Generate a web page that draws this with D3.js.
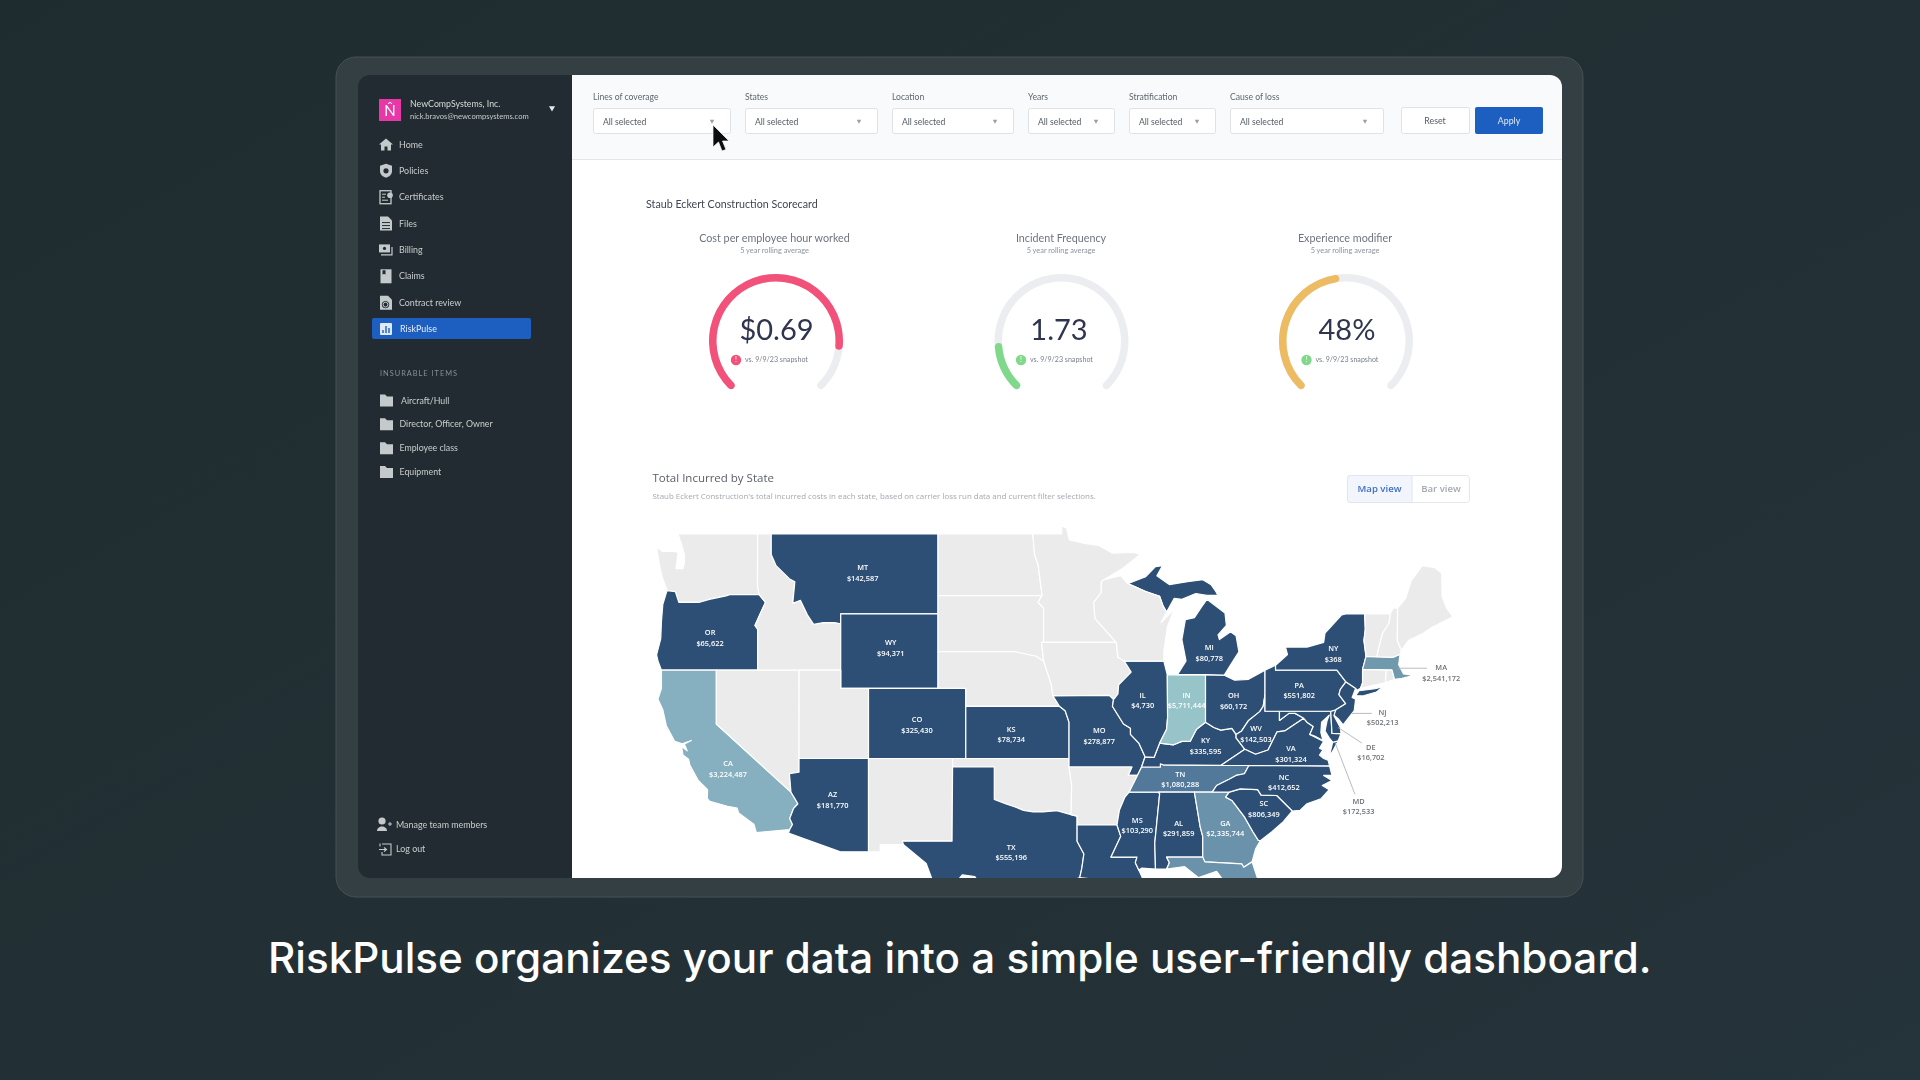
<!DOCTYPE html>
<html>
<head>
<meta charset="utf-8">
<title>RiskPulse</title>
<script src="https://cdn.jsdelivr.net/npm/d3@7"></script>
<style>
  html, body { margin: 0; padding: 0; background: #24313a; overflow: hidden; }
  svg { display: block; }
  text { font-family: Lato, "Open Sans", sans-serif; }
  .mapArea text { font-family: "Open Sans", "Noto Sans", sans-serif; }
</style>
</head>
<body>
<div id="chartArea"></div>
<script>
// --- chart values ---
const navItems = ["Home", "Policies", "Certificates", "Files", "Billing", "Claims", "Contract review", "RiskPulse"];
const insurableItems = ["Aircraft/Hull", "Director, Officer, Owner", "Employee class", "Equipment"];
const footerItems = ["Manage team members", "Log out"];
const filterLabels = ["Lines of coverage", "States", "Location", "Years", "Stratification", "Cause of loss"];
const filterWidths = [137, 132, 121, 86, 86, 153];

const gaugeTitles = ["Cost per employee hour worked", "Incident Frequency", "Experience modifier"];
const gaugeValues = ["$0.69", "1.73", "48%"];
const gaugeFractions = [0.855, 0.167, 0.478];
const gaugeColors = ["#f2517a", "#80d98b", "#edbb62"];
const snapshotColors = ["#f2517a", "#80d98b", "#80d98b"];

const stateCodes = ["MT", "OR", "WY", "CO", "KS", "CA", "AZ", "TX", "MI", "NY", "MA", "PA", "IL", "IN", "OH", "NJ", "WV", "MO", "KY", "DE", "VA", "TN", "NC", "MD", "SC", "MS", "AL", "GA"];
const stateIncurred = [142587, 65622, 94371, 325430, 78734, 3224487, 181770, 555196, 80778, 368, 2541172, 551802, 4730, 5711444, 60172, 502213, 142503, 278877, 335595, 16702, 301324, 1080288, 412652, 172533, 806349, 103290, 291859, 2335744];
// no printed label, only shaded
const unlabelledShaded = { LA: 150000, FL: 2000000 };

// label anchors, lon/lat
const labelAnchors = {
  MT: [-109.47, 47.1], OR: [-120.45, 43.74], WY: [-107.45, 43.2], CO: [-105.56, 38.93], KS: [-98.78, 38.4],
  CA: [-119.16, 36.37], AZ: [-111.63, 34.53], TX: [-98.78, 31.3], MI: [-84.53, 42.94], NY: [-75.61, 42.9],
  MA: [-67.84, 41.86], PA: [-78.06, 40.9], IL: [-89.32, 40.33], IN: [-86.16, 40.33], OH: [-82.78, 40.29],
  NJ: [-72.06, 39.38], WV: [-81.17, 38.43], MO: [-92.45, 38.31], KY: [-84.79, 37.72], DE: [-72.9, 37.36],
  VA: [-78.65, 37.27], TN: [-86.62, 35.77], NC: [-79.16, 35.58], MD: [-73.78, 34.15], SC: [-80.6, 34],
  MS: [-89.71, 32.97], AL: [-86.73, 32.8], GA: [-83.38, 32.8]
};
const leaderLines = [
  [[-70.96, 42.11], [-68.87, 42.11]],
  [[-74.27, 39.6], [-72.83, 39.6]],
  [[-75.27, 38.8], [-73.55, 37.9]],
  [[-75.49, 37.95], [-74.05, 34.88]]
];
const outsideLabels = ["MA", "NJ", "DE", "MD"];

// state outlines, lon/lat, hand traced
const stateShapes = {
  WA: [[[-124.3,48.38],[-123.9,48.16],[-123.1,48.17],[-122.75,48.1],[-122.9,47.3],[-122.4,47.3],[-122.3,47.6],[-122.3,48],[-122.5,48.5],[-122.76,49],[-117.03,49],[-117.04,46.42],[-116.92,45.99],[-118.98,46],[-119.3,45.93],[-120.5,45.75],[-121.2,45.6],[-122.7,45.6],[-122.95,46.15],[-123.55,46.2],[-123.9,46.9],[-124.1,47.5]]],
  OR: [[[-123.55,46.2],[-122.95,46.15],[-122.7,45.6],[-121.2,45.6],[-120.5,45.75],[-119.3,45.93],[-118.98,46],[-116.92,45.99],[-116.46,45.6],[-116.85,45],[-117.22,44.4],[-117.03,44.2],[-117.03,42],[-123.95,42],[-124.2,42.5],[-124.3,42.84],[-124,43.7],[-123.95,44.6],[-123.85,45.5]]],
  CA: [[[-123.95,42],[-120,42],[-120,39],[-114.63,35],[-114.13,34.3],[-114.45,34],[-114.72,33.4],[-114.52,33.03],[-114.72,32.72],[-117.12,32.53],[-117.3,33.05],[-118.4,33.74],[-118.5,34.03],[-119.2,34.15],[-120.47,34.45],[-120.65,34.6],[-120.63,35.15],[-121.3,35.7],[-121.9,36.6],[-122,36.96],[-122.4,37.2],[-122.5,37.7],[-122.1,37.45],[-122.3,37.85],[-121.8,38.05],[-122.45,37.85],[-123,38],[-123.6,38.9],[-123.85,39.8],[-124.2,40.4],[-123.95,41]]],
  NV: [[[-120,42],[-114.04,42],[-114.05,36.2],[-114.74,36.1],[-114.63,35],[-120,39]]],
  ID: [[[-117.03,49],[-116.05,49],[-116.05,48],[-115.7,47.45],[-114.75,46.8],[-114.35,46.65],[-114.5,45.55],[-113.95,45.7],[-113.45,44.95],[-113,44.45],[-112.3,44.55],[-111.5,44.55],[-111.05,44.48],[-111.05,42],[-117.03,42],[-117.03,44.2],[-117.22,44.4],[-116.85,45],[-116.46,45.6],[-116.92,45.99],[-117.04,46.42]]],
  MT: [[[-116.05,49],[-104.05,49],[-104.05,45],[-111.05,45],[-111.05,44.48],[-111.5,44.55],[-112.3,44.55],[-113,44.45],[-113.45,44.95],[-113.95,45.7],[-114.5,45.55],[-114.35,46.65],[-114.75,46.8],[-115.7,47.45],[-116.05,48]]],
  WY: [[[-111.05,45],[-104.05,45],[-104.05,41],[-111.05,41]]],
  UT: [[[-114.04,42],[-111.05,42],[-111.05,41],[-109.05,41],[-109.05,37],[-114.05,37]]],
  AZ: [[[-114.05,37],[-109.05,37],[-109.05,31.33],[-111.07,31.33],[-114.81,32.5],[-114.72,32.72],[-114.52,33.03],[-114.72,33.4],[-114.45,34],[-114.13,34.3],[-114.63,35],[-114.74,36.1],[-114.05,36.2]]],
  CO: [[[-109.05,41],[-102.05,41],[-102.05,37],[-109.05,37]]],
  NM: [[[-109.05,37],[-103,37],[-103.04,32],[-106.62,32],[-106.53,31.78],[-108.21,31.78],[-108.21,31.33],[-109.05,31.33]]],
  ND: [[[-104.05,49],[-97.23,49],[-97.1,48],[-96.85,47.5],[-96.56,45.94],[-104.05,45.94]]],
  SD: [[[-104.05,45.94],[-96.56,45.94],[-96.85,45.6],[-96.45,45.3],[-96.45,43.5],[-96.6,43.5],[-96.45,42.49],[-97,42.76],[-98.5,43],[-104.05,43]]],
  NE: [[[-104.05,43],[-98.5,43],[-97,42.76],[-96.45,42.49],[-96.1,41.7],[-95.9,41.2],[-95.77,40.58],[-95.31,40],[-102.05,40],[-102.05,41],[-104.05,41]]],
  KS: [[[-102.05,40],[-95.31,40],[-94.9,39.75],[-94.62,39.1],[-94.62,37],[-102.05,37]]],
  OK: [[[-103,37],[-94.62,37],[-94.62,36.5],[-94.43,35.4],[-94.48,33.64],[-95.5,33.88],[-96.5,33.8],[-97.2,33.8],[-97.9,33.9],[-98.5,34.1],[-99.2,34.3],[-100,34.56],[-100,36.5],[-103,36.5]]],
  TX: [[[-103,36.5],[-100,36.5],[-100,34.56],[-99.2,34.3],[-98.5,34.1],[-97.9,33.9],[-97.2,33.8],[-96.5,33.8],[-95.5,33.88],[-94.48,33.64],[-94.04,33.55],[-94.04,31.99],[-93.55,31.2],[-93.7,30.3],[-93.85,29.7],[-94.7,29.4],[-95.3,28.9],[-97.2,27.7],[-97.4,26.8],[-97.15,25.96],[-98.2,26.05],[-99.1,26.4],[-99.5,27.5],[-100.3,28.3],[-101.4,29.77],[-102.3,29.88],[-103.15,28.98],[-104.5,29.65],[-104.9,30.6],[-106.53,31.78],[-106.62,32],[-103.04,32]]],
  MN: [[[-97.23,49],[-95.15,49],[-95.15,49.38],[-94.8,49.3],[-94.6,48.72],[-93.5,48.55],[-92.5,48.45],[-91.5,48.07],[-90,48.1],[-89.5,48],[-90.8,47.3],[-92.1,46.75],[-92.3,46.65],[-92.3,46.1],[-92.85,45.6],[-92.75,44.75],[-91.22,43.5],[-96.45,43.5],[-96.45,45.3],[-96.85,45.6],[-96.56,45.94],[-96.85,47.5],[-97.1,48]]],
  IA: [[[-96.6,43.5],[-91.22,43.5],[-91.1,42.7],[-90.65,42.5],[-90.15,41.9],[-91.05,41.2],[-91.1,40.7],[-91.42,40.38],[-91.73,40.61],[-95.77,40.58],[-95.9,41.2],[-96.1,41.7],[-96.45,42.49]]],
  MO: [[[-95.77,40.58],[-91.73,40.61],[-91.42,40.38],[-91.5,40],[-90.7,39],[-90.2,38.75],[-90.2,38.4],[-89.6,37.9],[-89.15,37.1],[-89.4,36.5],[-89.7,36],[-90.37,36],[-90.1,36.5],[-94.62,36.5],[-94.62,39.1],[-94.9,39.75],[-95.31,40]]],
  AR: [[[-94.62,36.5],[-90.1,36.5],[-90.37,36],[-89.7,36],[-90.3,35],[-90.6,34.7],[-91,33.9],[-91.17,33],[-94.04,33],[-94.04,33.55],[-94.48,33.64],[-94.43,35.4]]],
  LA: [[[-94.04,33],[-91.17,33],[-90.9,32.3],[-91.6,31],[-89.73,31],[-89.85,30.65],[-89.6,30.18],[-89.4,29.8],[-89.1,29.1],[-90.1,29.15],[-91.3,29.4],[-92.3,29.55],[-93.85,29.7],[-93.7,30.3],[-93.55,31.2],[-94.04,31.99]]],
  MS: [[[-91.17,33],[-91,33.9],[-90.6,34.7],[-90.3,35],[-88.2,35],[-88.1,34.9],[-88.45,31.9],[-88.4,30.25],[-89.4,30.3],[-89.6,30.18],[-89.85,30.65],[-89.73,31],[-91.6,31],[-90.9,32.3]]],
  TN: [[[-90.3,35],[-89.7,36],[-89.4,36.5],[-88.05,36.5],[-88.05,36.68],[-87.85,36.63],[-83.68,36.6],[-81.68,36.59],[-82,36.1],[-82.6,36],[-83.1,35.77],[-84,35.4],[-84.32,35],[-88.2,35]]],
  KY: [[[-89.4,36.5],[-89.15,37.1],[-88.5,37.07],[-88.1,37.9],[-87.1,37.8],[-86.5,38],[-85.9,38],[-85.45,38.7],[-84.8,39.1],[-84.2,38.8],[-83.7,38.65],[-82.9,38.75],[-82.6,38.4],[-82.6,38.2],[-81.97,37.54],[-83.68,36.6],[-87.85,36.63],[-88.05,36.68],[-88.05,36.5]]],
  IL: [[[-90.65,42.5],[-87.8,42.5],[-87.55,41.75],[-87.53,39.35],[-87.6,38.7],[-88.1,37.9],[-88.5,37.07],[-89.15,37.1],[-89.6,37.9],[-90.2,38.4],[-90.2,38.75],[-90.7,39],[-91.5,40],[-91.42,40.38],[-91.1,40.7],[-91.05,41.2],[-90.15,41.9]]],
  IN: [[[-87.55,41.75],[-87.2,41.75],[-84.8,41.76],[-84.8,39.1],[-85.45,38.7],[-85.9,38],[-86.5,38],[-87.1,37.8],[-88.1,37.9],[-87.6,38.7],[-87.53,39.35]]],
  OH: [[[-84.8,41.76],[-83.45,41.73],[-82.7,41.45],[-81.7,41.5],[-80.52,42],[-80.52,40.64],[-80.65,40],[-80.9,39.7],[-81.7,39.2],[-82.2,38.6],[-82.6,38.4],[-82.9,38.75],[-83.7,38.65],[-84.2,38.8],[-84.8,39.1]]],
  WV: [[[-80.52,40.64],[-80.52,39.72],[-79.48,39.72],[-79.48,39.2],[-78.8,39.6],[-78.35,39.6],[-77.73,39.32],[-78.35,39],[-79.1,38.6],[-79.65,38.55],[-80.3,37.5],[-81.2,37.25],[-81.97,37.54],[-82.6,38.2],[-82.6,38.4],[-82.2,38.6],[-81.7,39.2],[-80.9,39.7],[-80.65,40]]],
  VA: [[[-83.68,36.6],[-81.97,37.54],[-81.2,37.25],[-80.3,37.5],[-79.65,38.55],[-79.1,38.6],[-78.35,39],[-77.73,39.32],[-77.5,39.1],[-77.05,38.85],[-77.3,38.4],[-76.3,38],[-76.6,37.6],[-76.35,37.5],[-76.6,37.2],[-76.3,37],[-75.98,36.9],[-75.87,36.55],[-81.68,36.59]],
       [[-75.9,37.1],[-75.65,37.95],[-75.25,38.03],[-75.6,37.5]]],
  MD: [[[-79.48,39.72],[-75.79,39.72],[-75.7,38.46],[-75.05,38.45],[-75.25,38.03],[-75.65,37.95],[-75.9,38.2],[-76.2,38.6],[-76.05,39.2],[-75.9,39.5],[-76.45,39.1],[-76.5,38.5],[-76.35,38.05],[-76.95,38.3],[-77.3,38.4],[-77.05,38.85],[-77.5,39.1],[-77.73,39.32],[-78.35,39.6],[-78.8,39.6],[-79.48,39.2]]],
  DE: [[[-75.79,39.72],[-75.42,39.8],[-75.55,39.45],[-75.1,38.8],[-75.05,38.45],[-75.7,38.46]]],
  PA: [[[-80.52,42],[-79.76,42.27],[-79.76,42],[-75.35,42],[-74.7,41.36],[-75.1,40.95],[-75.2,40.65],[-74.72,40.15],[-75.42,39.8],[-75.79,39.72],[-80.52,39.72]]],
  NY: [[[-79.76,42.27],[-78.9,42.85],[-79.05,43.26],[-77.5,43.25],[-76.3,43.5],[-76.2,44],[-75,44.95],[-74.7,45],[-73.35,45],[-73.3,44.2],[-73.4,43.6],[-73.25,42.75],[-73.5,42.05],[-73.5,41.3],[-73.65,41],[-73.9,40.9],[-74,41],[-74.7,41.36],[-75.35,42],[-79.76,42]],
       [[-74,40.6],[-73.75,40.87],[-72.6,40.98],[-72,41.1],[-72.5,40.8],[-73.5,40.58]]],
  NJ: [[[-75.42,39.8],[-74.72,40.15],[-75.2,40.65],[-75.1,40.95],[-74.7,41.36],[-74,41],[-74.25,40.5],[-74,40.4],[-74.1,39.75],[-74.9,38.95],[-75.2,39.25],[-75.55,39.5]]],
  CT: [[[-73.5,42.05],[-71.8,42.02],[-71.85,41.32],[-73.65,41],[-73.5,41.3]]],
  RI: [[[-71.8,42.02],[-71.38,42.02],[-71.2,41.5],[-71.85,41.32]]],
  MA: [[[-73.25,42.75],[-71.3,42.7],[-70.8,42.87],[-70.9,42.3],[-70.55,41.8],[-70,41.75],[-70,42.05],[-69.95,41.7],[-70.65,41.55],[-71.2,41.5],[-71.38,42.02],[-73.5,42.05]]],
  VT: [[[-73.35,45],[-71.5,45],[-71.6,44.5],[-72.05,44],[-72.4,43],[-72.46,42.73],[-73.25,42.75],[-73.4,43.6],[-73.3,44.2]]],
  NH: [[[-71.5,45],[-71.3,45.3],[-70.98,45.3],[-71,43.6],[-70.7,43.07],[-70.8,42.87],[-71.3,42.7],[-72.46,42.73],[-72.4,43],[-72.05,44],[-71.6,44.5]]],
  ME: [[[-70.98,45.3],[-70.4,45.8],[-70,46.7],[-69.2,47.45],[-68.3,47.35],[-67.8,47.07],[-67.78,45.9],[-67.45,45.3],[-67,44.85],[-68.5,44.3],[-69.1,44],[-70.2,43.6],[-70.7,43.07],[-71,43.6]]],
  MI: [[[-90.4,46.55],[-89.1,46.9],[-88.4,47.4],[-87.9,47.45],[-88.3,46.95],[-87.4,46.5],[-86.1,46.65],[-85,46.75],[-84.4,46.5],[-84.1,46.2],[-83.9,45.95],[-84.7,45.95],[-85.5,46.05],[-86.5,45.75],[-87.05,45.8],[-87.6,45.1],[-87.85,45.4],[-88.1,45.9],[-89.1,46.15]],
       [[-86.82,41.76],[-84.8,41.76],[-83.45,41.73],[-83.15,42.1],[-82.4,43],[-82.6,43.85],[-83,44.07],[-83.8,43.65],[-83.9,43.9],[-83.3,44.4],[-83.4,45.05],[-84.7,45.75],[-85.1,45.35],[-85.6,44.8],[-86.25,44.7],[-86.5,43.65],[-86.2,42.5]]],
  WI: [[[-92.3,46.65],[-92.1,46.75],[-90.9,46.95],[-90.4,46.55],[-89.1,46.15],[-88.1,45.9],[-87.85,45.4],[-87.6,45.1],[-88,44.55],[-87.05,45.25],[-87.55,44.3],[-87.8,43],[-87.8,42.5],[-90.65,42.5],[-91.1,42.7],[-91.22,43.5],[-92.75,44.75],[-92.85,45.6],[-92.3,46.1]]],
  AL: [[[-88.2,35],[-85.6,35],[-85.18,32.87],[-85,32.3],[-85,31],[-87.6,31],[-87.4,30.65],[-87.6,30.25],[-88.4,30.25],[-88.45,31.9],[-88.1,34.9]]],
  GA: [[[-85.6,35],[-83.1,35],[-83.35,34.7],[-82.9,34.5],[-82,33.5],[-81.4,32.6],[-81,32.05],[-80.85,32.03],[-81.2,31.5],[-81.45,30.7],[-82.05,30.36],[-82.2,30.57],[-84.85,30.7],[-85,31],[-85,32.3],[-85.18,32.87]]],
  FL: [[[-87.6,31],[-85,31],[-84.85,30.7],[-82.2,30.57],[-82.05,30.36],[-81.45,30.7],[-81,29.5],[-80,26.8],[-80.3,25.3],[-81.1,25.2],[-81.8,26.2],[-82.7,28],[-82.7,28.9],[-83.5,29.5],[-84,30.1],[-85.3,29.7],[-86.3,30.4],[-87.6,30.25],[-87.4,30.65]]],
  SC: [[[-83.35,34.7],[-83.1,35],[-82.3,35.2],[-81.05,35.15],[-80.8,34.82],[-79.67,34.8],[-78.55,33.86],[-79.2,33.2],[-80,32.6],[-80.85,32.03],[-81,32.05],[-81.4,32.6],[-82,33.5],[-82.9,34.5]]],
  NC: [[[-84.32,35],[-84,35.4],[-83.1,35.77],[-82.6,36],[-82,36.1],[-81.68,36.59],[-75.87,36.55],[-75.7,36],[-76.3,36],[-75.7,35.7],[-76.4,35.4],[-75.9,35.15],[-76.5,34.6],[-77.5,34.3],[-78,33.9],[-78.55,33.86],[-79.67,34.8],[-80.8,34.82],[-81.05,35.15],[-82.3,35.2],[-83.1,35]]]
};

const valueFor = new Map(stateCodes.map((c, i) => [c, stateIncurred[i]]));
Object.entries(unlabelledShaded).forEach(([c, v]) => valueFor.set(c, v));

const width = 1920, height = 1080;
const svg = d3.select("#chartArea").append("svg").attr("width", width).attr("height", height);
const defs = svg.append("defs");

const bg = defs.append("linearGradient").attr("id", "bg").attr("x1", 0).attr("y1", 0).attr("x2", 1).attr("y2", 1);
bg.append("stop").attr("offset", "0%").attr("stop-color", "#1f2c2f");
bg.append("stop").attr("offset", "100%").attr("stop-color", "#25333a");
svg.append("rect").attr("width", width).attr("height", height).attr("fill", "url(#bg)");

// video frame softness
defs.append("filter").attr("id", "soft").attr("x", 0).attr("y", 0).attr("width", 1).attr("height", 1)
  .append("feGaussianBlur").attr("stdDeviation", 0.35);

// laptop frame and screen
svg.append("rect").attr("x", 336).attr("y", 57).attr("width", 1247).attr("height", 840).attr("rx", 20)
  .attr("fill", "#343f44").attr("stroke", "#465156").attr("stroke-width", 1);
defs.append("clipPath").attr("id", "screen").append("rect")
  .attr("x", 358).attr("y", 75).attr("width", 1204).attr("height", 803).attr("rx", 12);
const screen = svg.append("g").attr("clip-path", "url(#screen)").append("g").attr("filter", "url(#soft)");
screen.append("rect").attr("x", 358).attr("y", 75).attr("width", 1204).attr("height", 803).attr("fill", "#fff");
screen.append("rect").attr("x", 358).attr("y", 75).attr("width", 214).attr("height", 803).attr("fill", "#232c30");

drawSidebar(screen);
drawFilters(screen);
drawGauges(screen);
drawMap(screen.append("g").attr("class", "mapArea"));

// caption
svg.append("text").attr("x", 268).attr("y", 973)
  .style("font-family", "Inter").style("font-size", "42.2px").style("font-weight", 500).attr("fill", "#fff")
  .text("RiskPulse organizes your data into a simple user-friendly dashboard.");

function drawSidebar(g) {
  g.append("rect").attr("x", 379).attr("y", 99).attr("width", 22).attr("height", 22).attr("fill", "#e838a8");
  g.append("text").attr("x", 390).attr("y", 116).attr("text-anchor", "middle").attr("fill", "#fff")
    .style("font-size", "15px").text("N\u0302");
  g.append("text").attr("x", 410).attr("y", 107).attr("fill", "#d5d9da").style("font-size", "8.8px").text("NewCompSystems, Inc.");
  g.append("text").attr("x", 410).attr("y", 118.5).attr("fill", "#c5cacc").style("font-size", "7.6px").text("nick.bravos@newcompsystems.com");
  g.append("path").attr("d", d3.symbol(d3.symbolTriangle, 16)).attr("transform", "translate(552,108) rotate(180)").attr("fill", "#e6e8e9");

  // active row
  g.append("rect").attr("x", 372).attr("y", 318).attr("width", 159).attr("height", 21).attr("rx", 2).attr("fill", "#1a5fc0");

  const navY = d3.scalePoint().domain(navItems).range([144.5, 329]);
  navItems.forEach((name) => {
    const y = navY(name);
    const active = name === "RiskPulse";
    drawNavIcon(g, name, 386, y, active);
    g.append("text").attr("x", active ? 400 : 399).attr("y", y).attr("dy", "0.35em")
      .attr("fill", active ? "#e8eefa" : "#c9cdcf").style("font-size", "8.9px").text(name);
  });

  g.append("text").attr("x", 380).attr("y", 373).attr("dy", "0.35em").attr("fill", "#868e91")
    .style("font-size", "7.4px").style("letter-spacing", "1px").text("INSURABLE ITEMS");

  const itemY = d3.scalePoint().domain(insurableItems).range([400.5, 472]);
  insurableItems.forEach((name, i) => {
    const y = itemY(name);
    g.append("path").attr("fill", "#c4cacc")
      .attr("d", `M380 ${y - 6}h5l2 2h6v10h-13z`);
    g.append("text").attr("x", i === 0 ? 401 : 399.5).attr("y", y).attr("dy", "0.35em").attr("fill", "#c9cdcf")
      .style("font-size", "8.8px").text(name);
  });

  const footY = d3.scalePoint().domain(footerItems).range([825, 849]);
  g.append("circle").attr("cx", 382).attr("cy", 821).attr("r", 3.6).attr("fill", "#c4cacc");
  g.append("path").attr("d", "M377 831c0-6 10-6 10 0z").attr("fill", "#c4cacc");
  g.append("path").attr("d", "M388 824h4m-2-2v4").attr("stroke", "#c4cacc").attr("stroke-width", 1);
  g.append("path").attr("d", "M382 844h9v11h-9v-3m-3-2.5h7m-2-2l2.5 2-2.5 2m-4-5v-3")
    .attr("fill", "none").attr("stroke", "#c4cacc").attr("stroke-width", 1.1);
  footerItems.forEach((name) => {
    g.append("text").attr("x", 396).attr("y", footY(name)).attr("dy", "0.35em").attr("fill", "#c9cdcf")
      .style("font-size", "8.9px").text(name);
  });
}

function drawNavIcon(g, name, cx, cy, active) {
  const c = active ? "#dfe9f8" : "#c4cacc";
  const icon = g.append("g").attr("transform", `translate(${cx},${cy})`);
  if (name === "Home") {
    icon.append("path").attr("d", "M-7 0L0 -6L7 0H5V6H1.5V2H-1.5V6H-5V0z").attr("fill", c);
  } else if (name === "Policies") {
    icon.append("path").attr("d", "M0 -7L6 -5V0C6 4 3 6 0 7C-3 6 -6 4 -6 0V-5z").attr("fill", c);
    icon.append("circle").attr("r", 2.6).attr("fill", "#232c30");
  } else if (name === "Certificates") {
    icon.append("rect").attr("x", -6).attr("y", -6.5).attr("width", 11).attr("height", 13).attr("fill", "none").attr("stroke", c).attr("stroke-width", 1.3);
    icon.append("path").attr("d", "M-4 -3h4M-4 0h3M-4 3h6").attr("stroke", c).attr("stroke-width", 1);
    icon.append("circle").attr("cx", 4).attr("cy", -2).attr("r", 2.8).attr("fill", c);
  } else if (name === "Files" || name === "Contract review") {
    icon.append("path").attr("d", "M-6 -7H2L6 -3V7H-6z").attr("fill", c);
    if (name === "Files") {
      icon.append("path").attr("d", "M-4 -1H4M-4 2H4M-4 5H4").attr("stroke", "#232c30").attr("stroke-width", 1);
    } else {
      icon.append("circle").attr("cx", -0.5).attr("cy", 2).attr("r", 3.2).attr("fill", "#232c30").attr("stroke", "#232c30");
      icon.append("circle").attr("cx", -0.5).attr("cy", 2).attr("r", 2.4).attr("fill", "none").attr("stroke", c);
    }
  } else if (name === "Billing") {
    icon.append("rect").attr("x", -7).attr("y", -5.5).attr("width", 11).attr("height", 8).attr("fill", c);
    icon.append("circle").attr("cx", -1.5).attr("cy", -1.5).attr("r", 1.6).attr("fill", "#232c30");
    icon.append("path").attr("d", "M6 -3V5H-5").attr("fill", "none").attr("stroke", c).attr("stroke-width", 1.2);
  } else if (name === "Claims") {
    icon.append("rect").attr("x", -5.5).attr("y", -7).attr("width", 11).attr("height", 14).attr("fill", c);
    icon.append("path").attr("d", "M-3.5 -6h3v4.5l-1.5-1l-1.5 1z").attr("fill", "#232c30");
  } else {
    icon.append("rect").attr("x", -6).attr("y", -6).attr("width", 12).attr("height", 12).attr("rx", 1).attr("fill", c);
    icon.append("path").attr("d", "M-3 4V1M0 4V-3M3 4V-1").attr("stroke", "#1a5fc0").attr("stroke-width", 1.4);
  }
}

function drawFilters(g) {
  g.append("rect").attr("x", 572).attr("y", 75).attr("width", 990).attr("height", 84).attr("fill", "#f9fafc");
  g.append("line").attr("x1", 572).attr("x2", 1562).attr("y1", 159.5).attr("y2", 159.5).attr("stroke", "#e3e5e9");
  const gap = 15;
  let x = 593;
  filterLabels.forEach((label, i) => {
    g.append("text").attr("x", x).attr("y", 97).attr("dy", "0.35em").attr("fill", "#5f6670").style("font-size", "8.6px").text(label);
    g.append("rect").attr("x", x + 0.5).attr("y", 108.5).attr("width", filterWidths[i]).attr("height", 25).attr("rx", 2)
      .attr("fill", "#fff").attr("stroke", "#dfe2e6");
    g.append("text").attr("x", x + 10).attr("y", 121.5).attr("dy", "0.35em").attr("fill", "#545b65").style("font-size", "8.6px").text("All selected");
    g.append("path").attr("d", d3.symbol(d3.symbolTriangle, 9))
      .attr("transform", `translate(${x + filterWidths[i] - 18},121) rotate(180)`).attr("fill", "#9aa0a8");
    x += filterWidths[i] + gap;
  });
  g.append("rect").attr("x", 1401.5).attr("y", 107.5).attr("width", 68).attr("height", 26).attr("rx", 2).attr("fill", "#fff").attr("stroke", "#dfe2e6");
  g.append("text").attr("x", 1435).attr("y", 121).attr("dy", "0.35em").attr("text-anchor", "middle").attr("fill", "#545b65").style("font-size", "8.8px").text("Reset");
  g.append("rect").attr("x", 1475).attr("y", 107).attr("width", 68).attr("height", 27).attr("rx", 2).attr("fill", "#1a5fc0");
  g.append("text").attr("x", 1509).attr("y", 121).attr("dy", "0.35em").attr("text-anchor", "middle").attr("fill", "#dfe9f8").style("font-size", "8.8px").text("Apply");
  // mouse pointer
  g.append("path").attr("d", "M713 125V147L718.5 142L722 151L726 149.5L722.5 141H729z")
    .attr("fill", "#111").attr("stroke", "#fff").attr("stroke-width", 0.7);
}

function drawGauges(g) {
  g.append("text").attr("x", 646).attr("y", 204).attr("dy", "0.35em").attr("fill", "#3f4652").style("font-size", "10.7px").text("Staub Eckert Construction Scorecard");
  const gaugeX = d3.scalePoint().domain(gaugeTitles).range([776, 1346]);
  // dial runs from -138deg to +138deg, measured from top
  const angle = d3.scaleLinear().domain([0, 1]).range([-138 * Math.PI / 180, 138 * Math.PI / 180]);
  const arc = d3.arc().innerRadius(59.5).outerRadius(67).cornerRadius(3.75);
  const titleX = [774.5, 1061, 1345];
  const valueX = [776.5, 1059, 1347];
  const dotX = [736, 1021, 1306.5];

  gaugeTitles.forEach((title, i) => {
    const cx = gaugeX(title);
    const gg = g.append("g");
    gg.append("text").attr("x", titleX[i]).attr("y", 238).attr("dy", "0.35em").attr("text-anchor", "middle").attr("fill", "#6d7480").style("font-size", "10.75px").text(title);
    gg.append("text").attr("x", titleX[i]).attr("y", 250.5).attr("dy", "0.35em").attr("text-anchor", "middle").attr("fill", "#8d939c").style("font-size", "7.4px").text("5 year rolling average");
    const dial = gg.append("g").attr("transform", `translate(${i === 1 ? 1061.5 : cx},341)`);
    dial.append("path").attr("d", arc({ startAngle: angle(0), endAngle: angle(1) })).attr("fill", "#ecedf0");
    dial.append("path").attr("d", arc({ startAngle: angle(0), endAngle: angle(gaugeFractions[i]) })).attr("fill", gaugeColors[i]);
    gg.append("text").attr("x", valueX[i]).attr("y", 330).attr("dy", "0.35em").attr("text-anchor", "middle").attr("fill", "#2f3450").style("font-size", "29px").text(gaugeValues[i]);
    gg.append("circle").attr("cx", dotX[i]).attr("cy", 360).attr("r", 5.2).attr("fill", snapshotColors[i]);
    gg.append("text").attr("x", dotX[i]).attr("y", 360).attr("dy", "0.35em").attr("text-anchor", "middle").attr("fill", "#fff").style("font-size", "7px").text("!");
    gg.append("text").attr("x", dotX[i] + 9).attr("y", 360).attr("dy", "0.35em").attr("fill", "#7a808a").style("font-size", "7.1px").text("vs. 9/9/23 snapshot");
  });
}

function drawMap(g) {
  g.append("text").attr("x", 652.5).attr("y", 478).attr("dy", "0.35em").attr("fill", "#5a6068").style("font-size", "11.5px").style("font-weight", 500).text("Total Incurred by State");
  g.append("text").attr("x", 652.5).attr("y", 496).attr("dy", "0.35em").attr("fill", "#a4a9b2").style("font-size", "7.93px").text("Staub Eckert Construction's total incurred costs in each state, based on carrier loss run data and current filter selections.");

  // view toggle
  g.append("rect").attr("x", 1347.5).attr("y", 475.5).attr("width", 122).attr("height", 27).attr("rx", 3).attr("fill", "#fff").attr("stroke", "#e4e6ea");
  g.append("path").attr("d", "M1412 475.5H1350.5a3 3 0 0 0 -3 3V499.5a3 3 0 0 0 3 3H1412z").attr("fill", "#f2f6fc").attr("stroke", "#e0e6ee");
  g.append("text").attr("x", 1379.5).attr("y", 489).attr("dy", "0.35em").attr("text-anchor", "middle").attr("fill", "#3f6fc4").style("font-size", "9.6px").style("font-weight", 600).text("Map view");
  g.append("text").attr("x", 1441).attr("y", 489).attr("dy", "0.35em").attr("text-anchor", "middle").attr("fill", "#a5aab2").style("font-size", "9.6px").style("font-weight", 600).text("Bar view");

  // map is a slightly wide mercator: parallels from a unit projection, then scaled to the screen
  const merc = d3.geoMercator().scale(1).translate([0, 0]);
  const xScale = d3.scaleLinear().domain([-104.05, -80.52]).range([938, 1265]);
  const yScale = d3.scaleLinear().domain([merc([0, 49])[1], merc([0, 36.5])[1]]).range([534, 767]);
  const lonLat = (p) => [xScale(p[0]), yScale(merc([0, p[1]])[1])];
  const path = d3.geoPath(d3.geoTransform({
    point(x, y) { const p = lonLat([x, y]); this.stream.point(p[0], p[1]); }
  }));

  const color = (v) => {
    if (v === undefined) return "#ebebeb";
    if (v > 5000000) return "#97c4c9";
    if (v > 3000000) return "#86b0bf";
    if (v > 2400000) return "#7099ae";
    if (v > 1500000) return "#6a92ab";
    if (v > 1000000) return "#53799a";
    return "#2d5075";
  };

  const features = Object.entries(stateShapes).map(([code, rings]) => ({
    type: "Feature",
    properties: { code },
    geometry: { type: "MultiPolygon", coordinates: rings.map((r) => [r.concat([r[0]])]) }
  }));

  const map = g.append("g");
  map.selectAll("path.state").data(features).join("path").attr("class", "state")
    .attr("d", path)
    .attr("fill", (d) => color(valueFor.get(d.properties.code)))
    .attr("stroke", "#fff").attr("stroke-width", 1.2).attr("stroke-linejoin", "round");

  map.selectAll("line.leader").data(leaderLines).join("line").attr("class", "leader")
    .attr("x1", (d) => lonLat(d[0])[0]).attr("y1", (d) => lonLat(d[0])[1])
    .attr("x2", (d) => lonLat(d[1])[0]).attr("y2", (d) => lonLat(d[1])[1])
    .attr("stroke", "#a6abb0").attr("stroke-width", 0.8);

  const money = (v) => "$" + d3.format(",")(v);
  stateCodes.forEach((code, i) => {
    const p = lonLat(labelAnchors[code]);
    const outside = outsideLabels.includes(code);
    const label = map.append("text").attr("text-anchor", "middle").attr("fill", outside ? "#6e7378" : "#fff")
      .style("font-size", "7.4px").style("font-weight", 600);
    label.append("tspan").attr("x", p[0]).attr("y", p[1] - 2.7).text(code);
    label.append("tspan").attr("x", p[0]).attr("y", p[1] + 8).text(money(stateIncurred[i]));
  });
}
</script>
</body>
</html>
